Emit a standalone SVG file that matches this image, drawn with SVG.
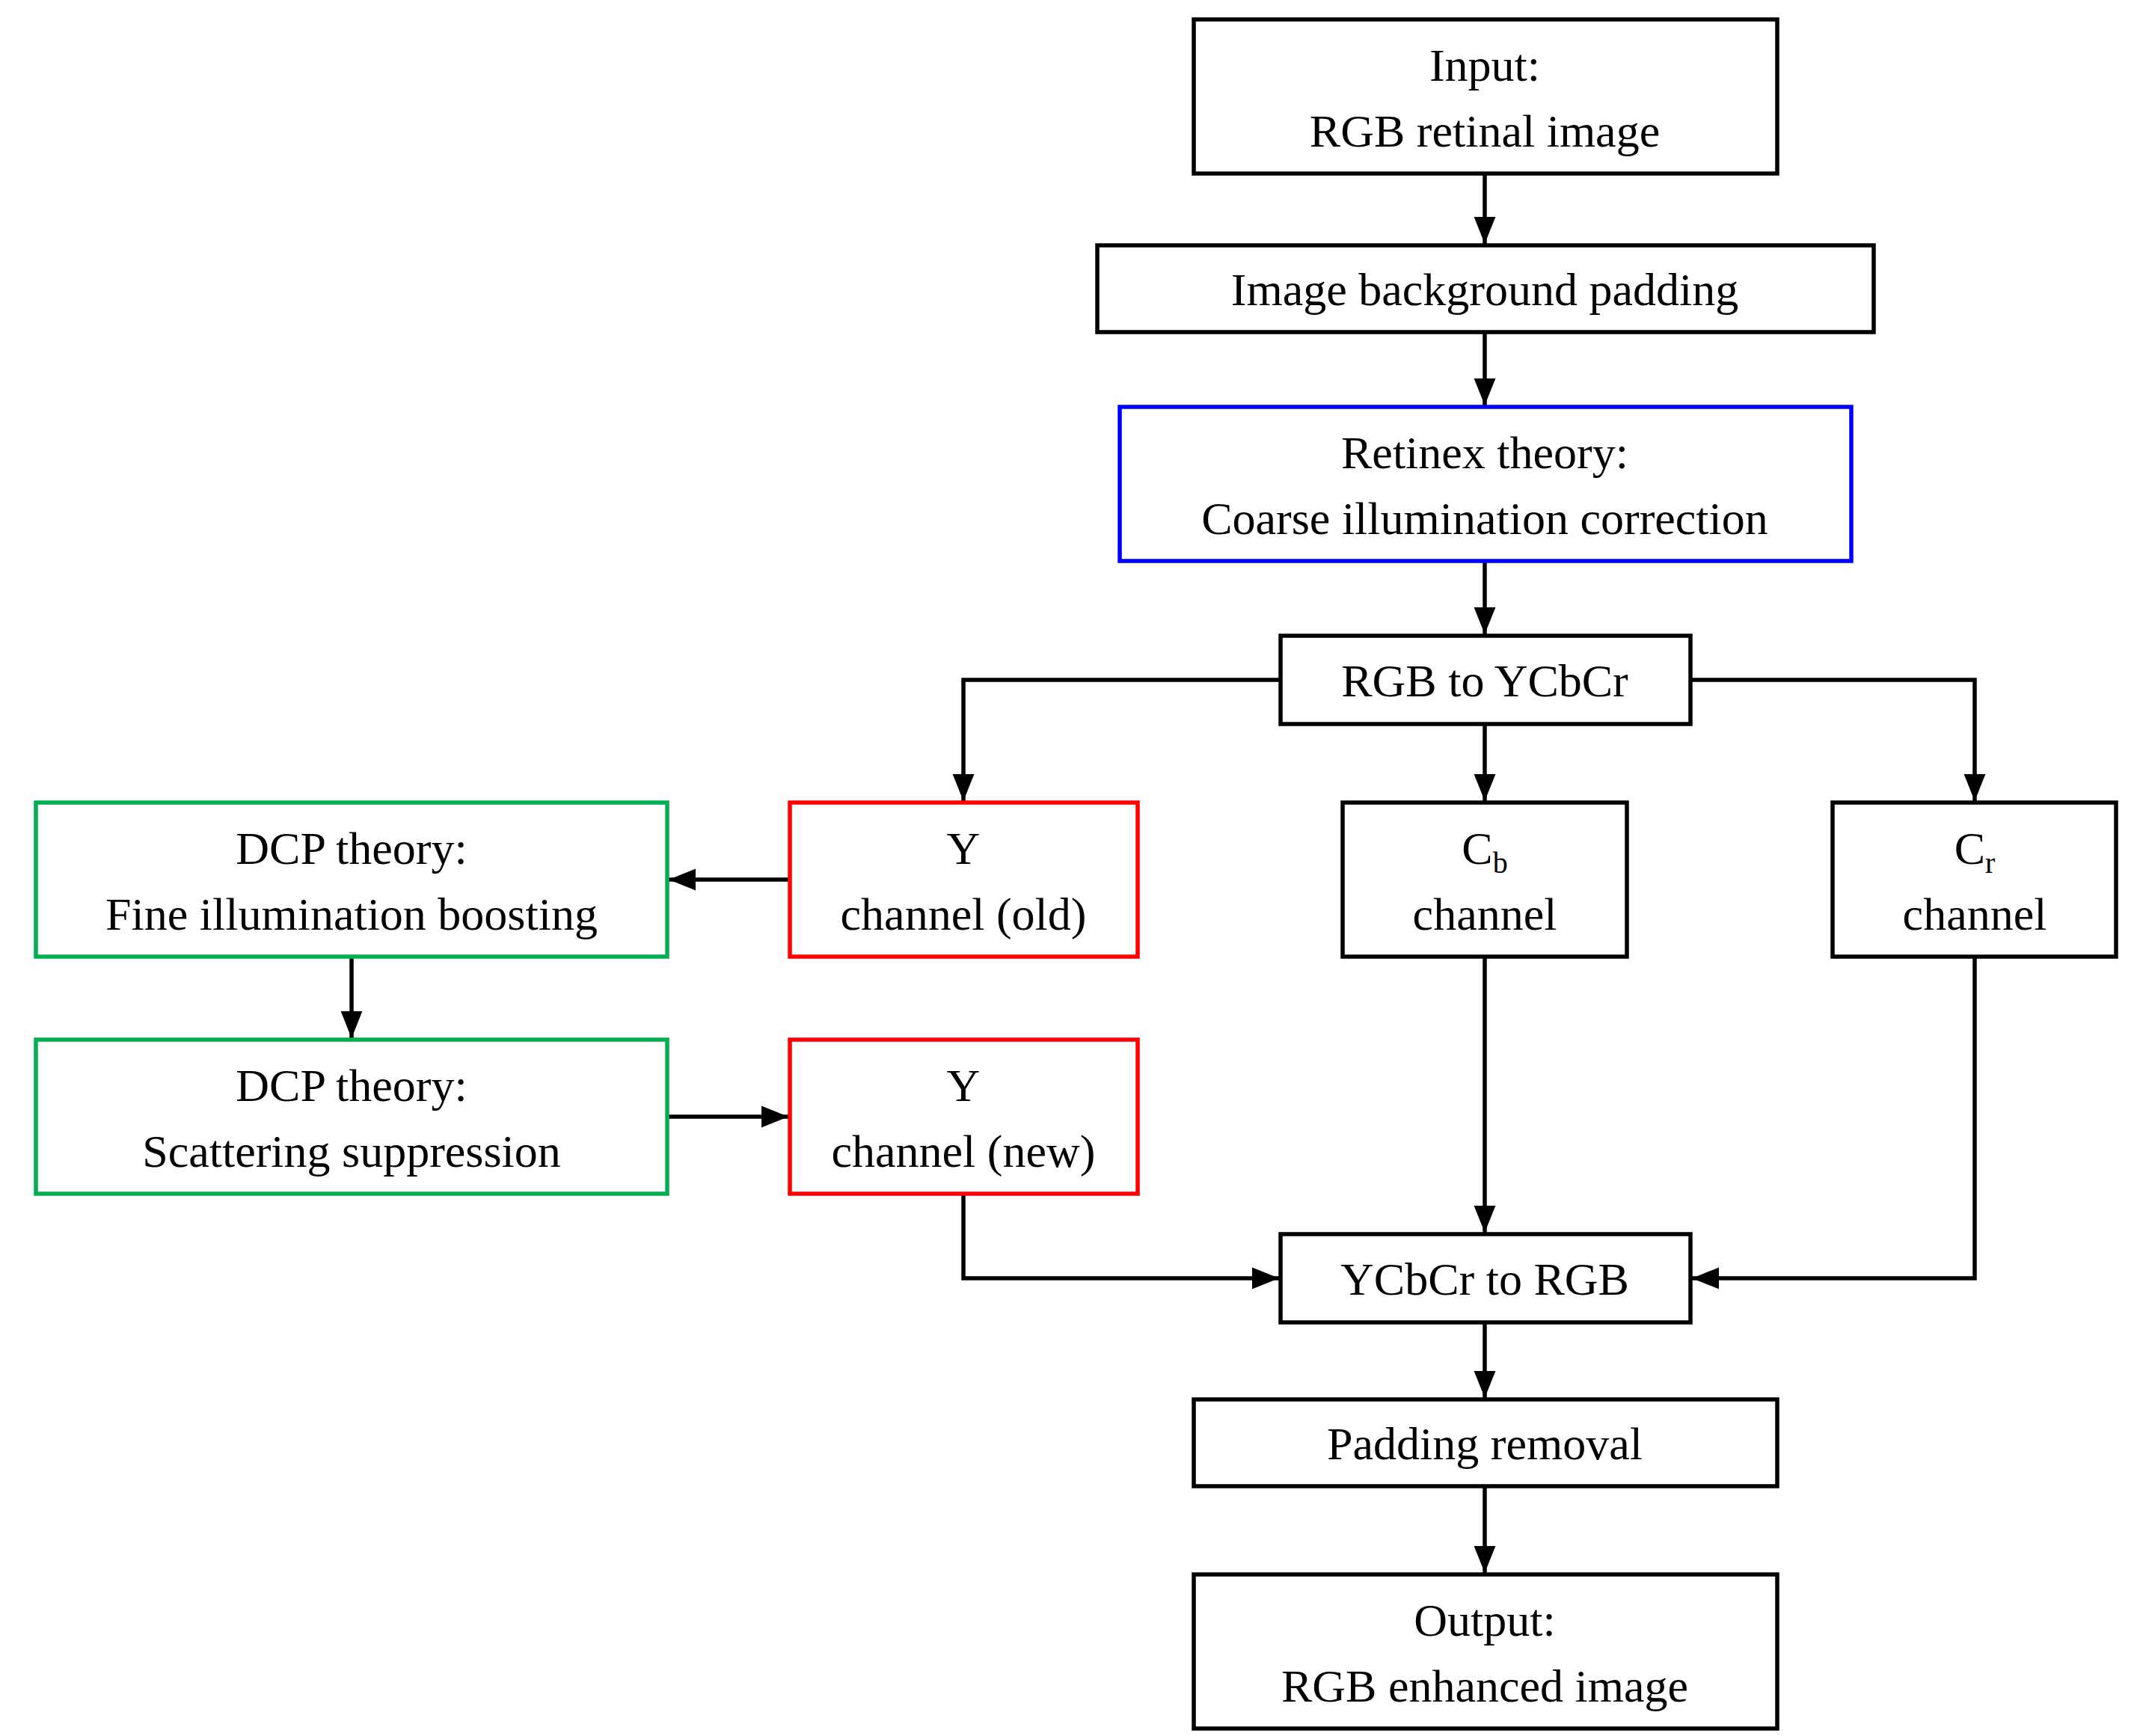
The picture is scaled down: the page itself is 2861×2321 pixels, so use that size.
<svg xmlns="http://www.w3.org/2000/svg" width="2861" height="2321" viewBox="0 0 2861 2321">
<style>
rect{fill:#fff;stroke-width:5.5}
.k{stroke:#000}.b{stroke:#0000ff}.r{stroke:#ff0000}.g{stroke:#00b050}
text{font-family:"Liberation Serif",serif;font-size:62px;text-anchor:middle;fill:#000}
#connectors path{fill:none;stroke:#000;stroke-width:5.5}
</style>
<defs><marker id="a" markerWidth="8" markerHeight="8" refX="7" refY="4" orient="auto" markerUnits="userSpaceOnUse" viewBox="0 0 8 8"><path d="M0,0L8,4L0,8z" fill="#000"/></marker>
<marker id="h" viewBox="0 0 10 10" refX="10" refY="5" markerWidth="36" markerHeight="36" markerUnits="userSpaceOnUse" orient="auto"><path d="M0,1L10,5L0,9z" fill="#000"/></marker></defs>
<rect width="2861" height="2321" style="fill:#fff;stroke:none"/>
<g id="connectors">
<path d="M1985,232V326" marker-end="url(#h)"/>
<path d="M1985,444V542" marker-end="url(#h)"/>
<path d="M1985,750V848" marker-end="url(#h)"/>
<path d="M1712,909H1288V1071" marker-end="url(#h)"/>
<path d="M1985,968V1071" marker-end="url(#h)"/>
<path d="M2260,909H2640V1071" marker-end="url(#h)"/>
<path d="M1056,1176H894" marker-end="url(#h)"/>
<path d="M470,1279V1388" marker-end="url(#h)"/>
<path d="M892,1493H1054" marker-end="url(#h)"/>
<path d="M1288,1596V1709H1710" marker-end="url(#h)"/>
<path d="M1985,1279V1648" marker-end="url(#h)"/>
<path d="M2640,1279V1709H2262" marker-end="url(#h)"/>
<path d="M1985,1768V1869" marker-end="url(#h)"/>
<path d="M1985,1987V2103" marker-end="url(#h)"/>
</g>
<g id="input"><rect class="k" x="1596" y="26" width="780" height="206"/><text x="1985" y="108">Input:</text><text x="1985" y="196">RGB retinal image</text></g>
<g id="pad"><rect class="k" x="1467" y="328" width="1038" height="116"/><text x="1985" y="408">Image background padding</text></g>
<g id="retinex"><rect class="b" x="1497" y="544" width="978" height="206"/><text x="1985" y="626">Retinex theory:</text><text x="1985" y="714">Coarse illumination correction</text></g>
<g id="rgb2ycc"><rect class="k" x="1712" y="850" width="548" height="118"/><text x="1985" y="931">RGB to YCbCr</text></g>
<g id="yold"><rect class="r" x="1056" y="1073" width="465" height="206"/><text x="1288" y="1155">Y</text><text x="1288" y="1243">channel (old)</text></g>
<g id="cb"><rect class="k" x="1795" y="1073" width="380" height="206"/><text x="1985" y="1155">C<tspan font-size="40" dy="12">b</tspan></text><text x="1985" y="1243">channel</text></g>
<g id="cr"><rect class="k" x="2450" y="1073" width="379" height="206"/><text x="2640" y="1155">C<tspan font-size="40" dy="12">r</tspan></text><text x="2640" y="1243">channel</text></g>
<g id="dcp1"><rect class="g" x="48" y="1073" width="844" height="206"/><text x="470" y="1155">DCP theory:</text><text x="470" y="1243">Fine illumination boosting</text></g>
<g id="dcp2"><rect class="g" x="48" y="1390" width="844" height="206"/><text x="470" y="1472">DCP theory:</text><text x="470" y="1560">Scattering suppression</text></g>
<g id="ynew"><rect class="r" x="1056" y="1390" width="465" height="206"/><text x="1288" y="1472">Y</text><text x="1288" y="1560">channel (new)</text></g>
<g id="ycc2rgb"><rect class="k" x="1712" y="1650" width="548" height="118"/><text x="1985" y="1731">YCbCr to RGB</text></g>
<g id="padrem"><rect class="k" x="1596" y="1871" width="780" height="116"/><text x="1985" y="1951">Padding removal</text></g>
<g id="output"><rect class="k" x="1596" y="2105" width="780" height="206"/><text x="1985" y="2187">Output:</text><text x="1985" y="2275">RGB enhanced image</text></g>
</svg>
